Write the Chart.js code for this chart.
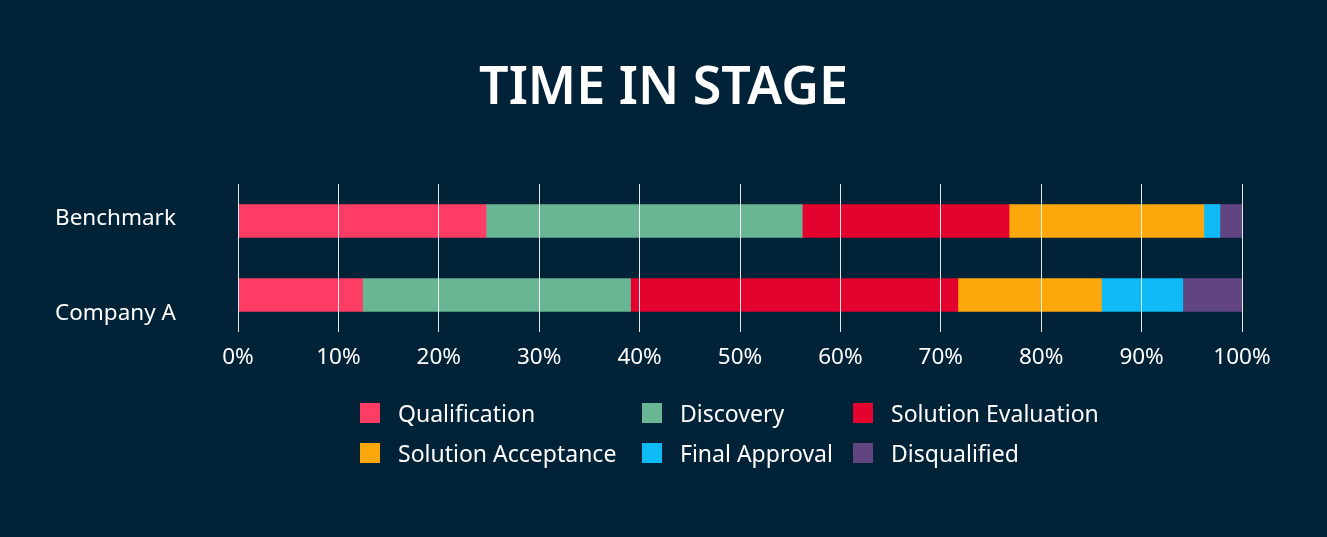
<!DOCTYPE html>
<html>
<head>
<meta charset="utf-8">
<script src="https://cdn.jsdelivr.net/npm/chart.js@4/dist/chart.umd.min.js"></script>
<style>
    html, body { margin: 0; padding: 0; background: #022237; }
    #wrap { position: relative; width: 1327px; height: 537px; }
    #title {
        position: absolute; left: 0; top: 58px; width: 1327px;
        text-align: center; line-height: 52px;
        font-family: "Noto Sans", sans-serif; font-size: 52px; font-weight: 600; color: #fff;
    }
    #legend {
        position: absolute; left: 360px; top: 393px;
        display: grid; grid-template-columns: 282px 211px auto;
        grid-auto-rows: 40px;
        font-family: "Noto Sans", sans-serif; font-size: 23px; color: #fff;
    }
    .legend-item { display: flex; align-items: center; white-space: nowrap; }
    .legend-box { width: 20px; height: 20px; margin-right: 18px; }
</style>
</head>
<body>
<div id="wrap">
    <canvas id="stageChart" width="1327" height="537"></canvas>
    <div id="title">TIME IN STAGE</div>
    <div id="legend"></div>
</div>
<script>
// Chart data
const categories = ['Benchmark', 'Company A'];
const stages = ['Qualification', 'Discovery', 'Solution Evaluation', 'Solution Acceptance', 'Final Approval', 'Disqualified'];
const stageColors = ['#FF3D64', '#68B694', '#E4032E', '#FCA80C', '#0FBBF7', '#614580'];
const qualification = [24.7, 12.4];
const discovery = [31.5, 26.7];
const solutionEvaluation = [20.6, 32.6];
const solutionAcceptance = [19.4, 14.3];
const finalApproval = [1.6, 8.1];
const disqualified = [2.2, 5.9];
const tickValues = [0, 10, 20, 30, 40, 50, 60, 70, 80, 90, 100];

const seriesValues = [qualification, discovery, solutionEvaluation, solutionAcceptance, finalApproval, disqualified];

// Render Stage Chart
function renderStageChart() {
    const ctx = document.getElementById('stageChart').getContext('2d');

    return new Chart(ctx, {
        type: 'bar',
        data: {
            labels: categories,
            datasets: stages.map((name, i) => ({
                label: name,
                data: seriesValues[i],
                backgroundColor: stageColors[i],
                borderWidth: 0,
                barThickness: 33
            }))
        },
        options: {
            indexAxis: 'y',
            responsive: false,
            animation: false,
            layout: { padding: { top: 184, left: 55, right: 85, bottom: 154 } },
            scales: {
                x: {
                    stacked: true,
                    min: 0,
                    max: 100,
                    afterBuildTicks: scale => { scale.ticks = tickValues.map(v => ({ value: v })); },
                    grid: { color: 'rgba(255,255,255,0.9)', lineWidth: 1, drawTicks: false, z: 1 },
                    border: { display: false },
                    ticks: {
                        color: '#ffffff',
                        padding: 12,
                        font: { family: 'Noto Sans', size: 22.5 },
                        callback: value => value + '%'
                    }
                },
                y: {
                    stacked: true,
                    grid: { display: false },
                    border: { display: false },
                    afterFit: scale => { scale.width = 183; },
                    ticks: {
                        color: '#ffffff',
                        crossAlign: 'far',
                        autoSkip: false,
                        // labels sit a little off the bar centre in the original
                        callback: (value, index) => index === 0 ? [categories[index], ''] : ['', categories[index]],
                        font: ctx => ({
                            family: 'Noto Sans',
                            size: 22.5,
                            lineHeight: ctx.index === 0 ? '4px' : '38px'
                        })
                    }
                }
            },
            plugins: {
                legend: { display: false },
                tooltip: { enabled: false }
            }
        }
    });
}

// Render Legend
function renderLegend(chart) {
    const container = document.getElementById('legend');
    container.innerHTML = chart.data.datasets.map(ds => `
        <div class="legend-item">
            <span class="legend-box" style="background:${ds.backgroundColor}"></span>
            <span>${ds.label}</span>
        </div>
    `).join('');
}

const chart = renderStageChart();
renderLegend(chart);
</script>
</body>
</html>
